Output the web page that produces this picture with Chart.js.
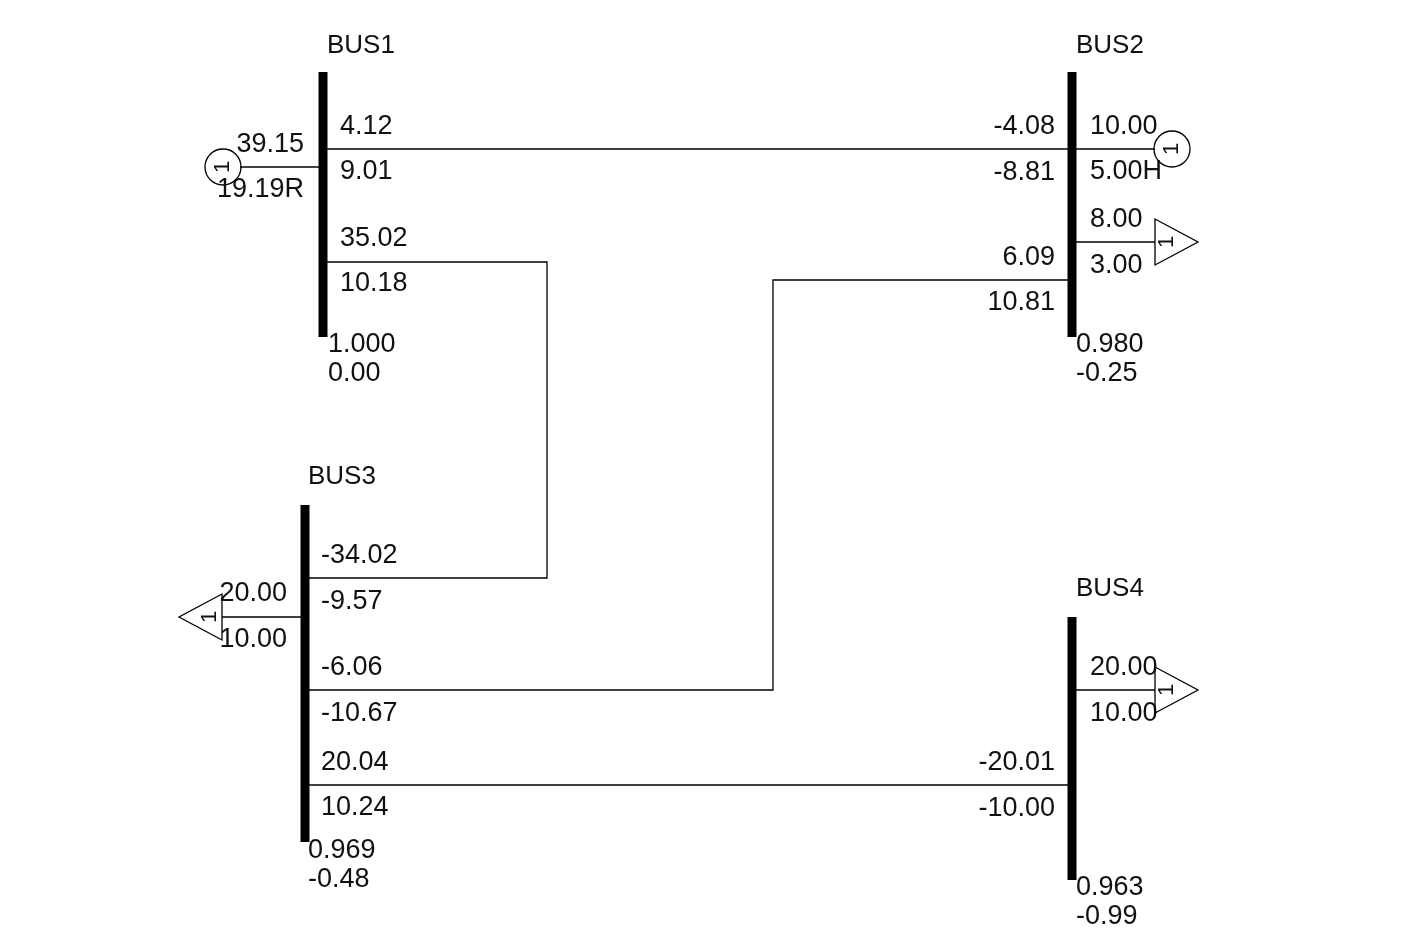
<!DOCTYPE html>
<html><head><meta charset="utf-8">
<script src="https://cdn.jsdelivr.net/npm/chart.js@4/dist/chart.umd.min.js"></script>
<style>html,body{margin:0;padding:0;background:#fff}#w{width:1428px;height:936px}</style>
</head><body><div id="w"><canvas id="c"></canvas></div>
<script>
// ---- data ----
const busNames = ["BUS1","BUS2","BUS3","BUS4"];
const busVoltage = ["1.000","0.980","0.969","0.963"];
const busAngle = ["0.00","-0.25","-0.48","-0.99"];
const branchFrom = ["BUS1","BUS1","BUS2","BUS3"];
const branchTo = ["BUS2","BUS3","BUS3","BUS4"];
const flowFromP = ["4.12","35.02","6.09","20.04"];
const flowFromQ = ["9.01","10.18","10.81","10.24"];
const flowToP = ["-4.08","-34.02","-6.06","-20.01"];
const flowToQ = ["-8.81","-9.57","-10.67","-10.00"];
const genBus = ["BUS1","BUS2"];
const genP = ["39.15","10.00"];
const genQ = ["19.19R","5.00H"];
const loadBus = ["BUS2","BUS3","BUS4"];
const loadP = ["8.00","20.00","20.00"];
const loadQ = ["3.00","10.00","10.00"];

// ---- layout (diagram positions, not data) ----
const busLayout = {BUS1:{x:323,y0:72,y1:337,lx:327,ly:46,vx:328,vy:345},
  BUS2:{x:1072,y0:72,y1:337,lx:1076,ly:46,vx:1076,vy:345},
  BUS3:{x:305,y0:505,y1:842,lx:308,ly:477,vx:308,vy:851},
  BUS4:{x:1072,y0:617,y1:880,lx:1076,ly:589,vx:1076,vy:888}};
const branchPaths = [
  {pts:[[327,149],[1072,149]], from:{x:340,y:127,al:'left'}, to:{x:1055,y:127,al:'right'}},
  {pts:[[327,262],[547,262],[547,578],[305,578]], from:{x:340,y:239,al:'left'}, to:{x:321,y:556,al:'left'}},
  {pts:[[1072,280],[773,280],[773,690],[305,690]], from:{x:1055,y:258,al:'right'}, to:{x:321,y:668,al:'left'}},
  {pts:[[305,785],[1072,785]], from:{x:321,y:763,al:'left'}, to:{x:1055,y:763,al:'right'}}];
const genLayout = [{y:167,dir:-1,tx:304,ty:145,al:'right'},{y:149,dir:1,tx:1090,ty:127,al:'left'}];
const loadLayout = [{y:242,dir:1,tx:1090,ty:220,al:'left'},{y:617,dir:-1,tx:287,ty:594,al:'right'},{y:690,dir:1,tx:1090,ty:668,al:'left'}];

const datasets = [];
busNames.forEach(b=>{const L=busLayout[b];datasets.push({data:[{x:L.x,y:L.y0},{x:L.x,y:L.y1}],showLine:true,borderColor:'#000',borderWidth:9,pointRadius:0,borderCapStyle:'butt'});});
branchPaths.forEach(p=>datasets.push({data:p.pts.map(q=>({x:q[0],y:q[1]})),showLine:true,borderColor:'#000',borderWidth:1.3,pointRadius:0}));
genBus.forEach((b,i)=>{const L=busLayout[b],g=genLayout[i];datasets.push({data:[{x:L.x,y:g.y},{x:L.x+g.dir*83,y:g.y}],showLine:true,borderColor:'#000',borderWidth:1.3,pointRadius:0});});
loadBus.forEach((b,i)=>{const L=busLayout[b],g=loadLayout[i];datasets.push({data:[{x:L.x,y:g.y},{x:L.x+g.dir*83,y:g.y}],showLine:true,borderColor:'#000',borderWidth:1.3,pointRadius:0});});

const FONT='27px "Liberation Sans", Arial, sans-serif';
const LFONT='26px "Liberation Sans", Arial, sans-serif';
const texts={id:'texts',afterDatasetsDraw(ch){
  const c=ch.ctx,X=v=>ch.scales.x.getPixelForValue(v),Y=v=>ch.scales.y.getPixelForValue(v);
  c.save();c.fillStyle='#111';c.strokeStyle='#000';c.lineWidth=1.3;c.textBaseline='middle';
  const t=(s,x,y,al,f)=>{c.font=f||FONT;c.textAlign=al||'left';c.fillText(s,X(x),Y(y));};
  busNames.forEach((b,i)=>{const L=busLayout[b];t(b,L.lx,L.ly,'left',LFONT);t(busVoltage[i],L.vx,L.vy);t(busAngle[i],L.vx,L.vy+29);});
  branchPaths.forEach((p,i)=>{t(flowFromP[i],p.from.x,p.from.y,p.from.al);t(flowFromQ[i],p.from.x,p.from.y+45,p.from.al);
    t(flowToP[i],p.to.x,p.to.y,p.to.al);t(flowToQ[i],p.to.x,p.to.y+46,p.to.al);});
  const one=(x,y,rot)=>{c.save();c.translate(X(x),Y(y));c.rotate(rot);c.textAlign='center';c.font='22px "Liberation Sans", Arial';c.fillText('1',0,0);c.restore();};
  genBus.forEach((b,i)=>{const L=busLayout[b],g=genLayout[i];t(genP[i],g.tx,g.ty,g.al);t(genQ[i],g.tx,g.ty+45,g.al);
    const cx=L.x+g.dir*100;c.beginPath();c.arc(X(cx),Y(g.y),18,0,Math.PI*2);c.stroke();one(cx,g.y,-Math.PI/2);});
  loadBus.forEach((b,i)=>{const L=busLayout[b],g=loadLayout[i];t(loadP[i],g.tx,g.ty,g.al);t(loadQ[i],g.tx,g.ty+46,g.al);
    const bx=L.x+g.dir*83,ax=bx+g.dir*43;c.beginPath();c.moveTo(X(bx),Y(g.y-23));c.lineTo(X(ax),Y(g.y));c.lineTo(X(bx),Y(g.y+23));c.closePath();c.stroke();
    one(bx+g.dir*12,g.y,-Math.PI/2);});
  c.restore();}};

new Chart(document.getElementById('c'),{type:'scatter',data:{datasets},
  options:{responsive:true,maintainAspectRatio:false,animation:false,layout:{padding:0},
    plugins:{legend:{display:false},tooltip:{enabled:false}},
    scales:{x:{type:'linear',min:0,max:1428,display:false},y:{type:'linear',min:0,max:936,reverse:true,display:false}}},
  plugins:[texts]});
</script></body></html>
